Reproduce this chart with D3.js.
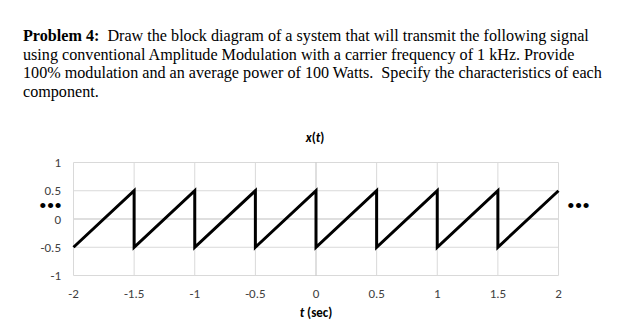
<!DOCTYPE html>
<html>
<head>
<meta charset="utf-8">
<script src="https://cdn.jsdelivr.net/npm/d3@7"></script>
<style>
  body { margin: 0; background: #fff; }
  svg { display: block; }
</style>
</head>
<body>
<div id="chart"></div>
<script>
// problem text lines
const problemLines = [
  ["Problem 4:", "  Draw the block diagram of a system that will transmit the following signal"],
  ["", "using conventional Amplitude Modulation with a carrier frequency of 1 kHz. Provide"],
  ["", "100% modulation and an average power of 100 Watts.  Specify the characteristics of each"],
  ["", "component."]
];

// sawtooth vertices (t, x)
const tValues = [-2, -1.5, -1.5, -1, -1, -0.5, -0.5, 0, 0, 0.5, 0.5, 1, 1, 1.5, 1.5, 2];
const xValues = [-0.5, 0.5, -0.5, 0.5, -0.5, 0.5, -0.5, 0.5, -0.5, 0.5, -0.5, 0.5, -0.5, 0.5, -0.5, 0.5];

const xTicks = [-2, -1.5, -1, -0.5, 0, 0.5, 1, 1.5, 2];
const yTicks = [-1, -0.5, 0, 0.5, 1];

const w = 624;
const h = 335;

var svg = d3.select("#chart")
  .append("svg")
  .attr("width", w)
  .attr("height", h);

// the problem statement
var para = svg.append("g")
  .attr("font-family", "'Liberation Serif', 'Times New Roman', serif")
  .attr("font-size", 16.15)
  .attr("fill", "#000");

problemLines.forEach((line, i) => {
  var t = para.append("text")
    .attr("x", 23)
    .attr("y", 41 + i * 18.5)
    .attr("xml:space", "preserve")
    .style("white-space", "pre");
  if (line[0]) t.append("tspan").attr("font-weight", "bold").text(line[0]);
  t.append("tspan").text(line[1]);
});

// scales
var x = d3.scaleLinear().domain([-2, 2]).range([73.5, 558.5]);
var y = d3.scaleLinear().domain([-1, 1]).range([275.5, 162.5]);

// gridlines
var grid = svg.append("g");
grid.selectAll("line.h")
  .data(yTicks)
  .enter()
  .append("line")
  .attr("x1", x(-2)).attr("x2", x(2))
  .attr("y1", d => y(d)).attr("y2", d => y(d))
  .attr("stroke", d => d === 0 ? "#bfbfbf" : "#d9d9d9")
  .attr("stroke-width", 1);
grid.selectAll("line.v")
  .data(xTicks)
  .enter()
  .append("line")
  .attr("y1", y(-1)).attr("y2", y(1))
  .attr("x1", d => x(d)).attr("x2", d => x(d))
  .attr("stroke", d => d === 0 ? "#bfbfbf" : "#d9d9d9")
  .attr("stroke-width", 1);

// tick labels
var labelFont = "Carlito, 'Open Sans', 'Liberation Sans', sans-serif";
svg.append("g")
  .selectAll("text")
  .data(yTicks)
  .enter()
  .append("text")
  .attr("x", 61)
  .attr("y", d => y(d) + 4.5)
  .attr("text-anchor", "end")
  .attr("font-family", labelFont)
  .attr("font-size", 13)
  .attr("fill", "#404040")
  .text(d => d);

svg.append("g")
  .selectAll("text")
  .data(xTicks)
  .enter()
  .append("text")
  .attr("x", d => x(d))
  .attr("y", 298)
  .attr("text-anchor", "middle")
  .attr("font-family", labelFont)
  .attr("font-size", 13)
  .attr("fill", "#404040")
  .text(d => d);

// signal
var pts = tValues.map((t, i) => [t, xValues[i]]);
var line = d3.line()
  .x(d => x(d[0]))
  .y(d => y(d[1]));
svg.append("path")
  .datum(pts)
  .attr("d", line)
  .attr("fill", "none")
  .attr("stroke", "#000")
  .attr("stroke-width", 3)
  .attr("stroke-linejoin", "miter");

// title and axis name
var title = svg.append("text")
  .attr("x", 315)
  .attr("y", 142)
  .attr("text-anchor", "middle")
  .attr("font-family", labelFont)
  .attr("font-size", 13)
  .attr("font-weight", "bold")
  .attr("fill", "#000");
title.append("tspan").attr("font-style", "italic").text("x");
title.append("tspan").text("(");
title.append("tspan").attr("font-style", "italic").text("t");
title.append("tspan").text(")");

var xlab = svg.append("text")
  .attr("x", 316)
  .attr("y", 317)
  .attr("text-anchor", "middle")
  .attr("font-family", labelFont)
  .attr("font-size", 13)
  .attr("font-weight", "bold")
  .attr("fill", "#000");
xlab.append("tspan").attr("font-style", "italic").text("t");
xlab.append("tspan").text(" (sec)");

// continuation dots
[51, 579].forEach(cx => {
  svg.append("text")
    .attr("x", cx).attr("y", 212)
    .attr("text-anchor", "middle")
    .attr("font-family", "'Liberation Sans', Arial, sans-serif")
    .attr("font-size", 19)
    .attr("letter-spacing", 1)
    .attr("fill", "#000")
    .text("•••");
});
</script>
</body>
</html>
